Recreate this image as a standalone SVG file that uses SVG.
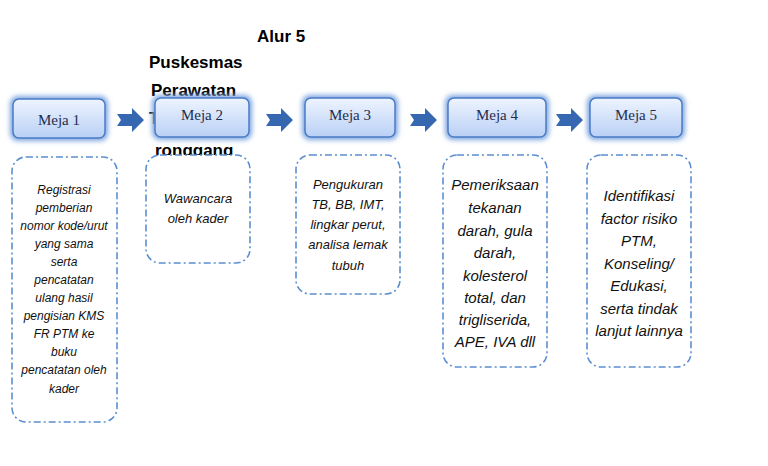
<svg xmlns="http://www.w3.org/2000/svg" width="768" height="466" viewBox="0 0 768 466">
<defs>
<linearGradient id="g" x1="0" y1="0" x2="0" y2="1"><stop offset="0" stop-color="#eef4ff"/><stop offset="1" stop-color="#b9d0f5"/></linearGradient>
<filter id="glow" x="-20%" y="-40%" width="140%" height="180%"><feGaussianBlur stdDeviation="2.5"/></filter>
<style>
.t{font-family:"Liberation Sans",Arial,sans-serif;font-weight:bold;font-size:17px;fill:#000}
.m{font-family:"Liberation Serif","Times New Roman",serif;font-size:15px;fill:#1f2d4d;text-anchor:middle}
.d{fill:#fff;stroke:#5b8fd0;stroke-width:1.6;stroke-dasharray:7 3 2 3}
.i{font-family:"Liberation Sans",Arial,sans-serif;font-style:italic;fill:#111;text-anchor:middle}
.a{fill:#3568b0}
.hb{fill:#7fa7e0;filter:url(#glow)}
.b{fill:url(#g);stroke:#4a7cc6;stroke-width:1.5}
</style>
</defs>
<text class="t" x="257" y="42">Alur 5</text>
<text class="t" x="149" y="68">Puskesmas</text>
<text class="t" x="151" y="96">Perawatan</text>
<text class="t" x="149" y="124">T</text>
<text class="t" x="155" y="156">ronggang</text>
<g id="connectors">
<path class="a" d="M117,114 H132 V108 L144,120 L132,132 V126 H117 L121,120 Z"/>
<path class="a" d="M266,114 H281 V108 L293,120 L281,132 V126 H266 L270,120 Z"/>
<path class="a" d="M410,114 H425 V108 L437,120 L425,132 V126 H410 L414,120 Z"/>
<path class="a" d="M556,114 H571 V108 L583,120 L571,132 V126 H556 L560,120 Z"/>
</g>
<g id="meja1"><rect class="hb" x="10" y="96" width="98" height="45" rx="8"/><rect class="b" x="13" y="99" width="92" height="39" rx="6"/><text class="m" x="59" y="125">Meja 1</text></g>
<g id="meja2"><rect class="hb" x="152" y="95" width="100" height="45" rx="8"/><rect class="b" x="155" y="98" width="94" height="39" rx="6"/><text class="m" x="202" y="120">Meja 2</text></g>
<g id="meja3"><rect class="hb" x="302" y="95" width="96" height="45" rx="8"/><rect class="b" x="305" y="98" width="90" height="39" rx="6"/><text class="m" x="350" y="120">Meja 3</text></g>
<g id="meja4"><rect class="hb" x="445" y="95" width="104" height="45" rx="8"/><rect class="b" x="448" y="98" width="98" height="39" rx="6"/><text class="m" x="497" y="120">Meja 4</text></g>
<g id="meja5"><rect class="hb" x="587" y="95" width="98" height="45" rx="8"/><rect class="b" x="590" y="98" width="92" height="39" rx="6"/><text class="m" x="636" y="120">Meja 5</text></g>
<g id="desc1"><rect class="d" x="12" y="157" width="105" height="265" rx="14"/>
<text class="i" font-size="12" x="64"><tspan x="64" y="194">Registrasi</tspan><tspan x="64" y="212">pemberian</tspan><tspan x="64" y="230">nomor kode/urut</tspan><tspan x="64" y="248">yang sama</tspan><tspan x="64" y="266">serta</tspan><tspan x="64" y="284">pencatatan</tspan><tspan x="64" y="302">ulang hasil</tspan><tspan x="64" y="320">pengisian KMS</tspan><tspan x="64" y="338">FR PTM ke</tspan><tspan x="64" y="356">buku</tspan><tspan x="64" y="374">pencatatan oleh</tspan><tspan x="64" y="393">kader</tspan></text></g>
<g id="desc2"><rect class="d" x="146" y="155" width="104" height="108" rx="14"/>
<text class="i" font-size="13"><tspan x="198" y="203">Wawancara</tspan><tspan x="198" y="223">oleh kader</tspan></text></g>
<g id="desc3"><rect class="d" x="296" y="155" width="104" height="139" rx="14"/>
<text class="i" font-size="13"><tspan x="348" y="189">Pengukuran</tspan><tspan x="348" y="209">TB, BB, IMT,</tspan><tspan x="348" y="229">lingkar perut,</tspan><tspan x="348" y="249">analisa lemak</tspan><tspan x="348" y="270">tubuh</tspan></text></g>
<g id="desc4"><rect class="d" x="443" y="155" width="104" height="212" rx="14"/>
<text class="i" font-size="15"><tspan x="495" y="190">Pemeriksaan</tspan><tspan x="495" y="213">tekanan</tspan><tspan x="495" y="236">darah, gula</tspan><tspan x="495" y="258">darah,</tspan><tspan x="495" y="281">kolesterol</tspan><tspan x="495" y="303">total, dan</tspan><tspan x="495" y="325">trigliserida,</tspan><tspan x="495" y="347">APE, IVA dll</tspan></text></g>
<g id="desc5"><rect class="d" x="587" y="155" width="104" height="212" rx="14"/>
<text class="i" font-size="15"><tspan x="639" y="201">Identifikasi</tspan><tspan x="639" y="224">factor risiko</tspan><tspan x="639" y="246">PTM,</tspan><tspan x="639" y="269">Konseling/</tspan><tspan x="639" y="291">Edukasi,</tspan><tspan x="639" y="314">serta tindak</tspan><tspan x="639" y="336">lanjut lainnya</tspan></text></g>
</svg>
